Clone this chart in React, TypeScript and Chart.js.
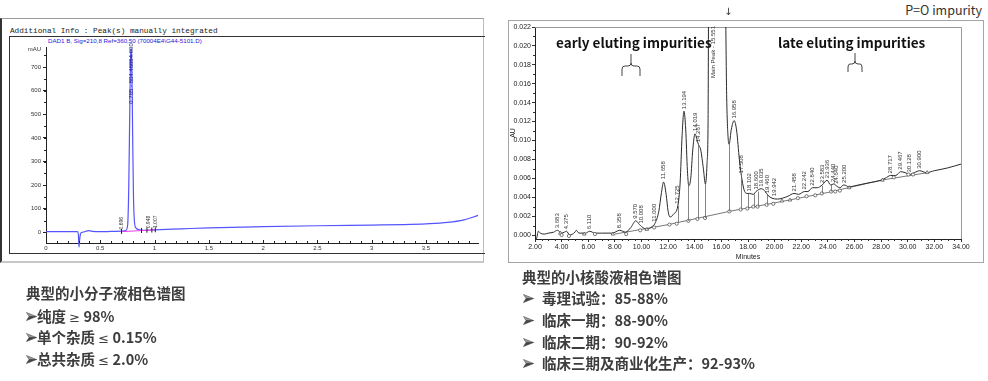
import React, { useEffect, useRef } from 'react';
import { Chart, registerables } from 'chart.js';
Chart.register(...registerables);

// ---------- Left chromatogram: small molecule (time in min, signal in mAU) ----------
const smTime = [0, 0.15, 0.29, 0.298, 0.304, 0.31, 0.318, 0.33, 0.35, 0.38, 0.4, 0.43, 0.5, 0.6, 0.69, 0.735, 0.752, 0.762, 0.772, 0.779, 0.785, 0.791, 0.798, 0.806, 0.815, 0.83, 0.86, 0.9, 1.0, 1.25, 1.5, 2.0, 2.5, 3.0, 3.3, 3.5, 3.7, 3.85, 3.98];
const smSignal = [3, 3, 3, -8, -62, -30, -6, 0, 2, 6, 7, 4, 3, 4, 5, 8, 30, 180, 520, 740, 780, 700, 420, 150, 45, 18, 11, 9, 11, 15, 19, 24, 28, 31, 33, 36, 42, 53, 72];
const smBaseTime = [0.69, 0.9, 1.007];
const smBaseSignal = [3, 8, 11];
const smMarkTime = [0.696, 0.88, 0.93, 0.975, 1.007];
const smMarkSignal = [4, 8, 9, 10, 11];
const smPeakTime = [0.696, 0.948, 1.007];
const smPeakSignal = [8, 13, 14];
const smPeakLabels = ['0.696', '0.948', '1.007'];
const smMainLabel = '0.785 - 804.48054.000';
const smXTicks = [0, 0.5, 1, 1.5, 2, 2.5, 3, 3.5];
const smXTickLabels = ['0', '0.5', '1', '1.5', '2', '2.5', '3', '3.5'];
const smYTicks = [0, 100, 200, 300, 400, 500, 600, 700];
const smYTickLabels = ['0', '100', '200', '300', '400', '500', '600', '700'];

// ---------- Right chromatogram: oligonucleotide (time in min, signal in AU) ----------
const naTime = [2.0, 2.1, 2.25, 2.4, 2.7, 3.0, 3.4, 3.68, 4.0, 4.2, 4.37, 4.6, 5.0, 5.1, 5.3, 5.8, 6.11, 6.5, 7.0, 7.8, 8.36, 8.8, 9.2, 9.57, 9.85, 10.0, 10.4, 10.8, 11.0, 11.3, 11.5, 11.66, 11.85, 12.0, 12.15, 12.4, 12.73, 12.9, 13.05, 13.19, 13.32, 13.45, 13.55, 13.7, 13.85, 14.02, 14.15, 14.27, 14.45, 14.65, 14.8, 14.92, 15.0, 15.06, 16.25, 16.4, 16.52, 16.58, 16.75, 16.96, 17.15, 17.35, 17.5, 17.7, 17.9, 18.1, 18.4, 18.6, 19.0, 19.3, 19.5, 19.8, 20.2, 20.6, 21.0, 21.46, 21.8, 22.24, 22.5, 22.84, 23.2, 23.58, 23.94, 24.2, 24.44, 24.64, 24.9, 25.2, 25.6, 26.0, 27.0, 28.0, 28.3, 28.72, 29.1, 29.47, 29.8, 30.13, 30.5, 30.9, 31.4, 32.0, 33.0, 34.0];
const naAU = [0.0001, -0.0004, 0.0004, 0.0002, 0.0001, 0.0002, 0.0003, 0.0005, 0.0002, 0.0003, 0.0004, 0.0000, 0.0003, 0.0005, 0.0002, 0.0002, 0.0004, 0.0002, 0.0002, 0.0002, 0.0005, 0.0003, 0.0008, 0.0015, 0.0011, 0.0009, 0.0006, 0.0009, 0.0012, 0.0025, 0.0045, 0.0056, 0.0043, 0.0025, 0.0019, 0.0022, 0.0031, 0.0055, 0.0105, 0.0131, 0.0112, 0.0068, 0.0052, 0.0060, 0.0090, 0.0107, 0.0102, 0.0096, 0.0090, 0.0070, 0.0054, 0.0075, 0.0120, 0.0300, 0.0300, 0.0145, 0.0100, 0.0096, 0.0112, 0.0121, 0.0110, 0.0080, 0.0063, 0.0048, 0.0044, 0.0044, 0.0043, 0.0046, 0.0049, 0.0046, 0.0042, 0.0039, 0.0038, 0.0039, 0.0041, 0.0044, 0.0043, 0.0046, 0.0046, 0.0050, 0.0050, 0.0053, 0.0058, 0.0053, 0.0054, 0.0052, 0.0050, 0.0053, 0.0051, 0.0052, 0.0055, 0.0058, 0.0060, 0.0063, 0.0063, 0.0067, 0.0066, 0.0064, 0.0066, 0.0068, 0.0066, 0.0068, 0.0071, 0.0075];
const naBaseTime = [8.0, 12.0, 16.6, 20.0, 24.0, 28.0, 31.5];
const naBaseAU = [0.0001, 0.0011, 0.0025, 0.0034, 0.0045, 0.0058, 0.0066];
const naDropTime = [12.73, 13.52, 14.22, 14.8, 16.58, 17.47, 17.98, 18.42, 18.75, 19.4, 23.55, 24.25];
const naDropTop = [0.0031, 0.0053, 0.0096, 0.0054, 0.0096, 0.0063, 0.0044, 0.0043, 0.0046, 0.0043, 0.0052, 0.0054];
const naDropBase = [0.0013, 0.0015, 0.0017, 0.0018, 0.0025, 0.0027, 0.0028, 0.0030, 0.0030, 0.0032, 0.0044, 0.0046];
const naCircTime = [4.0, 4.55, 6.5, 8.85, 9.9, 10.95, 12.1, 12.65, 13.52, 14.2, 14.77, 16.6, 17.45, 17.95, 18.4, 18.72, 19.4, 19.9, 21.75, 22.4, 23.05, 23.55, 24.25, 24.55, 24.9, 28.95, 30.05, 30.4];
const naCircAU = [0.0000, -0.0001, 0.0001, 0.0001, 0.0005, 0.0008, 0.0011, 0.0012, 0.0015, 0.0017, 0.0018, 0.0025, 0.0027, 0.0028, 0.0030, 0.0030, 0.0032, 0.0033, 0.0039, 0.0041, 0.0042, 0.0044, 0.0046, 0.0046, 0.0047, 0.0061, 0.0064, 0.0064];
const naTriTime = [3.9, 5.7, 7.85, 10.4, 20.55, 21.15, 25.6, 28.1, 31.45];
const naTriAU = [0.0002, 0.0001, 0.0001, 0.0006, 0.0036, 0.0037, 0.0050, 0.0058, 0.0066];
const naPeakTime = [3.683, 4.375, 6.11, 8.358, 9.57, 10.008, 11.0, 11.658, 12.725, 13.194, 14.019, 14.267, 16.958, 17.508, 18.102, 18.6, 19.035, 19.46, 19.942, 21.458, 22.242, 22.84, 23.583, 23.936, 24.44, 24.64, 25.2, 28.717, 29.467, 30.128, 30.9];
const naPeakAU = [0.0005, 0.0004, 0.0004, 0.0005, 0.0015, 0.0010, 0.0012, 0.0057, 0.0031, 0.0131, 0.0108, 0.0096, 0.0121, 0.0063, 0.0044, 0.0046, 0.0049, 0.0042, 0.0039, 0.0044, 0.0046, 0.0050, 0.0053, 0.0058, 0.0054, 0.0052, 0.0053, 0.0063, 0.0067, 0.0064, 0.0068];
const naMainTime = 15.42;
const naMainAU = 0.0166;
const naMainLabel = 'Main Peak - 15.551';
const naXTicks = [2, 4, 6, 8, 10, 12, 14, 16, 18, 20, 22, 24, 26, 28, 30, 32, 34];
const naXTickLabels = ['2.00', '4.00', '6.00', '8.00', '10.00', '12.00', '14.00', '16.00', '18.00', '20.00', '22.00', '24.00', '26.00', '28.00', '30.00', '32.00', '34.00'];
const naYTicks = [0, 0.002, 0.004, 0.006, 0.008, 0.01, 0.012, 0.014, 0.016, 0.018, 0.02, 0.022];
const naYTickLabels = ['0.000', '0.002', '0.004', '0.006', '0.008', '0.010', '0.012', '0.014', '0.016', '0.018', '0.020', '0.022'];

// ---------- Texts ----------
const leftHeading = '典型的小分子液相色谱图';
const leftItems = ['纯度 ≥ 98%', '单个杂质 ≤ 0.15%', '总共杂质 ≤ 2.0%'];
const rightHeading = '典型的小核酸液相色谱图';
const rightItems = ['毒理试验：85-88%', '临床一期：88-90%', '临床二期：90-92%', '临床三期及商业化生产：92-93%'];

const SANS = "'Liberation Sans', Arial, sans-serif";
const NARROW = "'Liberation Sans Narrow', 'Liberation Sans', Arial, sans-serif";
const CJK = "'Noto Sans CJK SC', 'Noto Sans', sans-serif";

const pts = (xs: number[], ys: number[]) => xs.map((x, i) => ({ x, y: ys[i] }));

function vText(ctx: CanvasRenderingContext2D, text: string, x: number, y: number, font: string, color: string) {
  ctx.save();
  ctx.translate(x, y);
  ctx.rotate(-Math.PI / 2);
  ctx.font = font;
  ctx.fillStyle = color;
  ctx.textAlign = 'left';
  ctx.textBaseline = 'middle';
  ctx.fillText(text, 0, 0);
  ctx.restore();
}

function fixSize(dim: 'width' | 'height', v: number) {
  return (s: any) => {
    s[dim] = v;
    s.paddingLeft = 0; s.paddingRight = 0; s.paddingTop = 0; s.paddingBottom = 0;
  };
}

function leftConfig(): any {
  const decor = {
    id: 'leftDecor',
    afterDraw(chart: any) {
      const { ctx, chartArea: a, scales } = chart;
      const x = scales.x, y = scales.y;
      ctx.save();
      ctx.strokeStyle = '#222';
      ctx.lineWidth = 1;
      for (let i = 0; i <= 39; i++) {
        const px = Math.round(x.getPixelForValue(i / 10)) + 0.5;
        const len = i % 5 === 0 ? 3 : 2;
        ctx.beginPath(); ctx.moveTo(px, a.bottom); ctx.lineTo(px, a.bottom - len); ctx.stroke();
      }
      for (let i = 0; i <= 15; i++) {
        const py = Math.round(y.getPixelForValue(i * 50)) + 0.5;
        ctx.beginPath(); ctx.moveTo(a.left, py); ctx.lineTo(a.left - 2, py); ctx.stroke();
      }
      ctx.fillStyle = '#333';
      ctx.font = `6px ${SANS}`;
      ctx.textAlign = 'right';
      ctx.textBaseline = 'middle';
      ctx.fillText('mAU', a.left - 5, a.top + 2);
      vText(ctx, smMainLabel, x.getPixelForValue(0.785), y.getPixelForValue(545), `6px ${SANS}`, '#1a1a6a');
      smPeakTime.forEach((t, i) => {
        vText(ctx, smPeakLabels[i], x.getPixelForValue(t), y.getPixelForValue(smPeakSignal[i]) - 1, `5px ${SANS}`, '#333');
      });
      ctx.restore();
    },
  };
  return {
    type: 'line',
    data: {
      datasets: [
        { data: pts(smBaseTime, smBaseSignal), borderColor: '#e83ce8', borderWidth: 1, pointRadius: 0, order: 1 },
        { data: pts(smTime, smSignal), borderColor: '#5555ff', borderWidth: 1.2, pointRadius: 0, cubicInterpolationMode: 'monotone', clip: false, order: 2 },
        { data: pts(smMarkTime, smMarkSignal), showLine: false, pointStyle: 'line', rotation: 90, pointRadius: 2.5, borderColor: '#222', borderWidth: 1, order: 0 },
      ],
    },
    options: {
      animation: false, responsive: true, maintainAspectRatio: false, events: [],
      layout: { padding: { top: 11, left: 0, right: 0, bottom: 0 } },
      plugins: { legend: { display: false }, tooltip: { enabled: false } },
      scales: {
        x: {
          type: 'linear', min: 0, max: 3.98,
          afterBuildTicks: (s: any) => { s.ticks = smXTicks.map((v) => ({ value: v })); },
          afterFit: fixSize('height', 10),
          grid: { drawOnChartArea: false, drawTicks: false },
          border: { color: '#222', width: 1 },
          ticks: { autoSkip: false, maxRotation: 0, padding: 2, color: '#333', font: { size: 6, family: SANS }, callback: (_v: any, i: number) => smXTickLabels[i] },
        },
        y: {
          type: 'linear', min: -45, max: 785,
          afterBuildTicks: (s: any) => { s.ticks = smYTicks.map((v) => ({ value: v })); },
          afterFit: fixSize('width', 37),
          grid: { drawOnChartArea: false, drawTicks: true, tickLength: 3, color: '#222' },
          border: { color: '#222', width: 1 },
          ticks: { autoSkip: false, padding: 2, color: '#333', font: { size: 6, family: SANS }, callback: (_v: any, i: number) => smYTickLabels[i] },
        },
      },
    },
    plugins: [decor],
  };
}

function rightConfig(): any {
  const decor = {
    id: 'rightDecor',
    beforeDatasetsDraw(chart: any) {
      const { ctx, chartArea: a } = chart;
      ctx.save();
      ctx.strokeStyle = '#9a9a9a';
      ctx.lineWidth = 1;
      ctx.beginPath();
      ctx.moveTo(a.left, Math.round(a.top) + 0.5);
      ctx.lineTo(Math.round(a.right) + 0.5, Math.round(a.top) + 0.5);
      ctx.lineTo(Math.round(a.right) + 0.5, a.bottom);
      ctx.stroke();
      ctx.restore();
    },
    afterDatasetsDraw(chart: any) {
      const { ctx, scales } = chart;
      const x = scales.x, y = scales.y;
      ctx.save();
      ctx.strokeStyle = '#666';
      ctx.lineWidth = 0.8;
      naDropTime.forEach((t, i) => {
        const px = Math.round(x.getPixelForValue(t)) + 0.5;
        ctx.beginPath();
        ctx.moveTo(px, y.getPixelForValue(naDropBase[i]));
        ctx.lineTo(px, y.getPixelForValue(naDropTop[i]));
        ctx.stroke();
      });
      naPeakTime.forEach((t, i) => {
        vText(ctx, t.toFixed(3), x.getPixelForValue(t), y.getPixelForValue(naPeakAU[i]) - 2, `6px ${SANS}`, '#333');
      });
      vText(ctx, naMainLabel, x.getPixelForValue(naMainTime), y.getPixelForValue(naMainAU), `6px ${SANS}`, '#333');
      ctx.restore();
    },
    afterDraw(chart: any) {
      const { ctx, chartArea: a, scales } = chart;
      const x = scales.x, y = scales.y;
      ctx.save();
      ctx.strokeStyle = '#333';
      ctx.lineWidth = 1;
      for (let i = 4; i <= 68; i++) {
        if (i % 4 === 0) continue;
        const px = Math.round(x.getPixelForValue(i / 2)) + 0.5;
        ctx.beginPath(); ctx.moveTo(px, a.bottom); ctx.lineTo(px, a.bottom + 2); ctx.stroke();
      }
      for (let i = 0; i <= 22; i++) {
        if (i % 2 === 0) continue;
        const py = Math.round(y.getPixelForValue(i / 1000)) + 0.5;
        ctx.beginPath(); ctx.moveTo(a.left, py); ctx.lineTo(a.left - 2, py); ctx.stroke();
      }
      ctx.restore();
    },
  };
  return {
    type: 'line',
    data: {
      datasets: [
        { data: pts(naBaseTime, naBaseAU), borderColor: '#555', borderWidth: 0.8, pointRadius: 0, order: 2 },
        { data: pts(naTime, naAU), borderColor: '#2a2a2a', borderWidth: 1, pointRadius: 0, cubicInterpolationMode: 'monotone', order: 1 },
        { data: pts(naCircTime, naCircAU), showLine: false, pointStyle: 'circle', pointRadius: 1.6, pointBorderWidth: 0.7, pointBackgroundColor: '#fff', pointBorderColor: '#444', order: 0 },
        { data: pts(naTriTime, naTriAU), showLine: false, pointStyle: 'triangle', pointRadius: 2, pointBorderWidth: 0.7, pointBackgroundColor: '#fff', pointBorderColor: '#444', order: 0 },
      ],
    },
    options: {
      animation: false, responsive: true, maintainAspectRatio: false, events: [],
      layout: { padding: { top: 7, left: 0, right: 22, bottom: 0 } },
      plugins: { legend: { display: false }, tooltip: { enabled: false } },
      scales: {
        x: {
          type: 'linear', min: 2, max: 34,
          afterBuildTicks: (s: any) => { s.ticks = naXTicks.map((v) => ({ value: v })); },
          afterFit: fixSize('height', 24),
          grid: { drawOnChartArea: false, drawTicks: true, tickLength: 3, color: '#333' },
          border: { color: '#222', width: 1 },
          ticks: { autoSkip: false, maxRotation: 0, padding: 1, color: '#222', font: { size: 7, family: NARROW }, callback: (_v: any, i: number) => naXTickLabels[i] },
          title: { display: true, text: 'Minutes', color: '#222', font: { size: 7, family: NARROW }, padding: { top: 0, bottom: 2 } },
        },
        y: {
          type: 'linear', min: -0.00042, max: 0.022,
          afterBuildTicks: (s: any) => { s.ticks = naYTicks.map((v) => ({ value: v })); },
          afterFit: fixSize('width', 26),
          grid: { drawOnChartArea: false, drawTicks: true, tickLength: 3, color: '#333' },
          border: { color: '#222', width: 1 },
          ticks: { autoSkip: false, padding: 1, color: '#222', font: { size: 7, family: NARROW }, callback: (_v: any, i: number) => naYTickLabels[i] },
          title: { display: true, text: 'AU', color: '#222', font: { size: 7, family: NARROW }, padding: 0 },
        },
      },
    },
    plugins: [decor],
  };
}

const abs = (o: React.CSSProperties): React.CSSProperties => ({ position: 'absolute', margin: 0, whiteSpace: 'nowrap', ...o });

// render ≥ / ≤ with a font that draws them upright
function withSymbols(t: string) {
  return t.split(/([≥≤])/).map((part, i) =>
    part === '≥' || part === '≤'
      ? <span key={i} style={{ fontFamily: "'DejaVu Sans', sans-serif", fontWeight: 400, fontSize: 13 }}>{part}</span>
      : <React.Fragment key={i}>{part}</React.Fragment>
  );
}

// three-D arrowhead bullet (➢ look)
function Bullet({ left, top }: { left: number; top: number }) {
  return (
    <svg width={11} height={9} viewBox="0 0 11 9" style={{ position: 'absolute', left, top }}>
      <path d="M0.5 0.5 L10.5 4.5 L3 4.5 Z" fill="#9a9a9a" stroke="#555" strokeWidth={0.6} strokeLinejoin="round" />
      <path d="M0.5 8.5 L10.5 4.5 L3 4.5 Z" fill="#444" stroke="#444" strokeWidth={0.6} strokeLinejoin="round" />
    </svg>
  );
}

export default function App() {
  const leftRef = useRef<HTMLCanvasElement>(null);
  const rightRef = useRef<HTMLCanvasElement>(null);
  useEffect(() => {
    const c1 = new Chart(leftRef.current as HTMLCanvasElement, leftConfig());
    const c2 = new Chart(rightRef.current as HTMLCanvasElement, rightConfig());
    return () => { c1.destroy(); c2.destroy(); };
  }, []);

  const textStyle: React.CSSProperties = { fontFamily: CJK, fontWeight: 700, fontSize: 14.5, color: '#3d3d3d', lineHeight: '20px' };
  const leftTops = [306, 327, 349];
  const rightTops = [288, 310, 332, 353];

  return (
    <div style={{ position: 'fixed', left: 0, top: 0, width: 988, height: 381, background: '#fff', overflow: 'hidden' }}>
      {/* Left panel frames */}
      <div style={abs({ left: 0, top: 18, width: 484, height: 245, boxSizing: 'border-box', borderTop: '1px solid #9a9a9a', borderLeft: '2px solid #333', borderRight: '1px solid #bdbdbd', borderBottom: '2px solid #c8c8c8' })} />
      <div style={abs({ left: 9, top: 36, width: 476, height: 218, boxSizing: 'border-box', borderTop: '1px solid #333', borderLeft: '1px solid #333', borderBottom: '1px solid #333' })} />
      <div style={abs({ left: 10, top: 26, fontFamily: "'Liberation Mono', 'DejaVu Sans Mono', monospace", fontSize: 7.7, lineHeight: '10px', color: '#222' })}>Additional Info : Peak(s) manually integrated</div>
      <div style={abs({ left: 48, top: 36.5, fontFamily: SANS, fontSize: 6.2, lineHeight: '8px', color: '#1a1ad8' })}>DAD1 B, Sig=210,8 Ref=360,50 (70004E4\G44-5101.D)</div>
      <div style={abs({ left: 9, top: 36, width: 474, height: 217 })}>
        <canvas ref={leftRef} />
      </div>

      {/* Right panel */}
      <div style={abs({ left: 508, top: 20, width: 476, height: 243, boxSizing: 'border-box', border: '1px solid #a5a5a5' })} />
      <div style={abs({ left: 509, top: 20, width: 474, height: 243 })}>
        <canvas ref={rightRef} />
      </div>
      <div style={abs({ right: 6, top: 2, fontFamily: CJK, fontSize: 12.5, lineHeight: '16px', color: '#333' })}>P=O impurity</div>
      <div style={abs({ left: 724, top: 4, fontFamily: "'DejaVu Sans', sans-serif", fontSize: 10, lineHeight: '16px', color: '#333' })}>↓</div>
      <div style={abs({ left: 556, top: 33, fontFamily: CJK, fontWeight: 700, fontSize: 13.5, lineHeight: '18px', color: '#111' })}>early eluting impurities</div>
      <div style={abs({ left: 778, top: 33, fontFamily: CJK, fontWeight: 700, fontSize: 13.5, lineHeight: '18px', color: '#111' })}>late eluting impurities</div>
      <svg width={988} height={381} style={{ position: 'absolute', left: 0, top: 0, pointerEvents: 'none' }}>
        <path d="M631 54 L631 63 Q631 66 628 66 L625 66 Q622 66 622 69 L622 76 M631 63 Q631 66 634 66 L637 66 Q640 66 640 69 L640 76" fill="none" stroke="#444" strokeWidth={1} />
        <path d="M855 53 L855 61 Q855 64 852 64 L850 64 Q848 64 848 67 L848 72 M855 61 Q855 64 858 64 L860 64 Q862 64 862 67 L862 72" fill="none" stroke="#444" strokeWidth={1} />
      </svg>

      {/* Bottom texts */}
      <div style={abs({ left: 26, top: 283, ...textStyle })}>{leftHeading}</div>
      {leftItems.map((t, i) => (
        <React.Fragment key={t}>
          <Bullet left={26} top={leftTops[i] + 6} />
          <div style={abs({ left: 37, top: leftTops[i], ...textStyle })}>{withSymbols(t)}</div>
        </React.Fragment>
      ))}
      <div style={abs({ left: 522, top: 267, ...textStyle })}>{rightHeading}</div>
      {rightItems.map((t, i) => (
        <React.Fragment key={t}>
          <Bullet left={523} top={rightTops[i] + 6} />
          <div style={abs({ left: 542, top: rightTops[i], ...textStyle })}>{t}</div>
        </React.Fragment>
      ))}
    </div>
  );
}
